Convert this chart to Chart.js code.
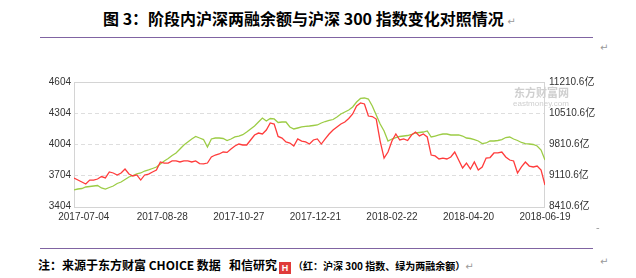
<!DOCTYPE html>
<html><head><meta charset="utf-8">
<script src="https://cdn.jsdelivr.net/npm/chart.js@4"></script>
<style>
html,body{margin:0;padding:0;background:#fff;width:636px;height:278px;overflow:hidden;position:relative;font-family:"Noto Sans CJK SC",sans-serif;}
.abs{position:absolute;white-space:nowrap;}
#title{left:103px;top:7px;font-size:16px;font-weight:bold;color:#000;line-height:22px;}
.rule{position:absolute;left:40px;width:553px;height:1px;background:#8064a2;}
#note{left:38px;top:256px;font-size:12px;font-weight:bold;line-height:18px;color:#000;}
.small{font-size:10px;}
.pm{color:#999;font-family:"DejaVu Sans",sans-serif;font-size:10px;font-weight:normal;}
.logo{display:inline-block;width:12px;height:12px;background:#e03a3a;color:#fff;font-size:9px;line-height:12px;text-align:center;vertical-align:-1px;margin:0 2px;font-family:"Liberation Sans",sans-serif;}
#chartbox{position:absolute;left:0;top:70px;width:636px;height:160px;}
#wm1{left:514px;top:86px;font-size:11px;font-weight:bold;color:#cfcfcf;line-height:13px;}
#wm2{left:513px;top:99px;font-size:8px;color:#cfcfcf;line-height:10px;font-family:"Liberation Sans",sans-serif;}
</style></head>
<body>
<div id="title" class="abs">图 3：阶段内沪深两融余额与沪深 300 指数变化对照情况 <span class="pm">↵</span></div>
<div class="rule" style="top:37px"></div>
<div class="abs pm" style="left:600px;top:42px;">↵</div>
<div id="chartbox"><canvas id="c" width="636" height="160"></canvas></div>
<div id="wm1" class="abs">东方财富网</div>
<div id="wm2" class="abs">eastmoney.com</div>
<div class="abs pm" style="left:596px;top:222px;">-</div>
<div class="rule" style="top:248px"></div>
<div id="note" class="abs">注：来源于东方财富 CHOICE 数据&nbsp;&nbsp;&nbsp;和信研究<span class="logo">H</span><span class="small">（红：沪深 300 指数、绿为两融余额）</span><span class="pm">↵</span></div>
<div class="abs pm" style="left:600px;top:256px;">↵</div>
<script>
const xTickLabels = ['2017-07-04','2017-08-28','2017-10-27','2017-12-21','2018-02-22','2018-04-20','2018-06-19'];
const xTickDays = [5,45,84,123,162,201,240];
const sampleStep = 2;
const leftTicks = [3404,3704,4004,4304,4604];
const rightTicks = [8410.6,9110.6,9810.6,10510.6,11210.6];
const hs300 = [
3679,3659,3640,3621,3659,3659,3669,3693,3679,3737,
3727,3708,3727,3765,3717,3698,3708,3659,3708,3717,
3737,3756,3833,3823,3823,3843,3843,3833,3843,3843,
3833,3843,3818,3814,3823,3881,3900,3910,3929,3925,
3958,3987,4006,3997,3997,4045,4093,4112,4103,4141,
4209,4199,4079,4064,4026,4016,3987,4055,4035,4026,
4006,4045,4055,4006,4055,4103,4141,4170,4199,4218,
4252,4296,4373,4402,4392,4276,4271,4247,4035,3871,
3929,4035,4103,4045,4055,4040,4093,4122,4084,4103,
4074,3900,3891,3862,3871,3862,3881,3929,3852,3775,
3823,3765,3833,3756,3785,3871,3876,3920,3920,3929,
3881,3852,3843,3727,3785,3833,3794,3785,3794,3756,
3611];
const marginBalance = [
8782,8804,8815,8849,8860,8872,8883,8827,8804,8838,
8872,8928,8962,9018,9074,9108,9142,9164,9209,9232,
9265,9299,9366,9434,9490,9558,9614,9704,9794,9861,
9929,9985,9951,9917,9749,9929,9951,9951,9940,9895,
9929,9974,9996,10025,10086,10154,10221,10311,10401,10333,
10390,10379,10300,10311,10311,10199,10154,10176,10199,10214,
10221,10232,10244,10289,10322,10345,10367,10424,10491,10536,
10581,10648,10761,10840,10851,10828,10671,10468,10266,10109,
9884,9929,9962,9985,9996,10007,10030,10064,10075,10086,
10109,9974,9996,10019,10041,10041,10019,10019,10019,9996,
9951,9940,9917,9884,9827,9839,9884,9884,9895,9917,
9962,9974,9929,9895,9850,9827,9816,9805,9771,9681,
9456];

const tickFont = {family:"'Liberation Sans Narrow','Liberation Sans','Noto Sans CJK SC',sans-serif", size:10};
const toPts = arr => arr.map((v,k)=>({x:k*sampleStep, y:v}));

const frame = {
  id:'frame',
  beforeDatasetsDraw(chart){
    const {ctx, chartArea:a} = chart;
    ctx.save();
    ctx.strokeStyle = '#d4d4d4';
    ctx.lineWidth = 1;
    ctx.strokeRect(Math.round(a.left)+0.5, Math.round(a.top)+0.5, Math.round(a.right-a.left)-1, Math.round(a.bottom-a.top));
    ctx.restore();
  }
};

new Chart(document.getElementById('c'), {
  type:'line',
  data:{datasets:[
    {label:'沪深300指数', data:toPts(hs300), yAxisID:'y', borderColor:'#ff3b3b', borderWidth:1.3, pointRadius:0, tension:0},
    {label:'两融余额', data:toPts(marginBalance), yAxisID:'y1', borderColor:'#9ccc45', borderWidth:1.3, pointRadius:0, tension:0}
  ]},
  options:{
    responsive:false, animation:false, events:[],
    layout:{padding:{top:12,left:0,right:0,bottom:0}},
    plugins:{legend:{display:false}, tooltip:{enabled:false}},
    scales:{
      x:{type:'linear', min:0, max:240,
        afterBuildTicks(s){ s.ticks = xTickDays.map(v=>({value:v})); },
        afterFit(s){ s.height = 23.5; },
        ticks:{autoSkip:false, maxRotation:0, padding:5, color:'#333', font:tickFont,
          callback(v){ const i = xTickDays.indexOf(v); return i>=0 ? xTickLabels[i] : ''; }},
        grid:{display:false, drawTicks:false}, border:{display:false}},
      y:{position:'left', min:3404, max:4604,
        afterBuildTicks(s){ s.ticks = leftTicks.map(v=>({value:v})); },
        afterFit(s){ s.width = 74; },
        ticks:{padding:3, color:'#333', font:tickFont, callback:v=>String(v)},
        grid:{drawTicks:false, color:c=>(c.index===0||c.index===leftTicks.length-1)?'rgba(0,0,0,0)':'#dedede'},
        border:{display:false, dash:[4,3]}},
      y1:{position:'right', min:8410.6, max:11210.6,
        afterBuildTicks(s){ s.ticks = rightTicks.map(v=>({value:v})); },
        afterFit(s){ s.width = 91; },
        ticks:{padding:4, color:'#333', font:tickFont, callback:v=>Number(v).toFixed(1)+'亿'},
        grid:{drawOnChartArea:false, drawTicks:false}, border:{display:false}}
    }
  },
  plugins:[frame]
});
</script>
</body></html>
